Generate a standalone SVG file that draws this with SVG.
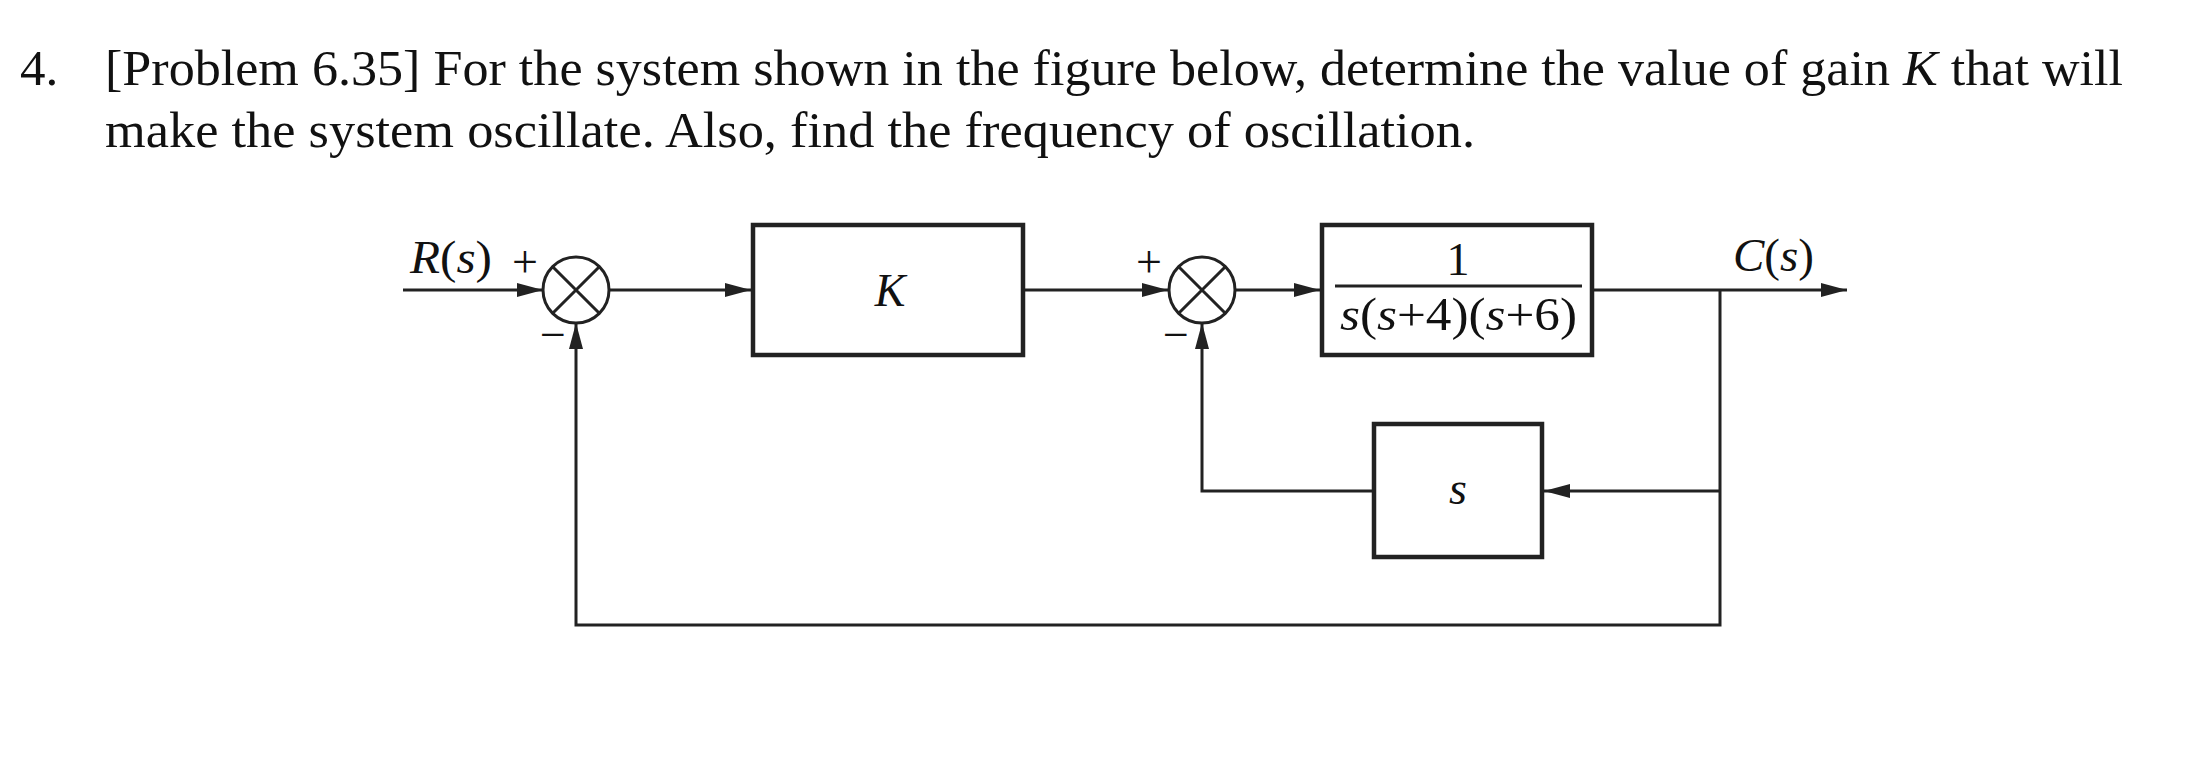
<svg xmlns="http://www.w3.org/2000/svg" width="2190" height="762" viewBox="0 0 2190 762">
<style>
text{font-family:"Liberation Serif","Times New Roman",serif;fill:#111}
.t{font-size:51px}
.l{font-size:46px}
.i{font-style:italic}
.box{fill:#fff;stroke:#222;stroke-width:4.5}
.ln{fill:none;stroke:#222;stroke-width:3}
.sum{fill:#fff;stroke:#222;stroke-width:3}
</style>
<defs>
<marker id="a" viewBox="0 0 10 10" refX="10" refY="5" markerWidth="26" markerHeight="14" markerUnits="userSpaceOnUse" orient="auto" preserveAspectRatio="none">
<path d="M0,0L10,5L0,10z" fill="#222"/>
</marker>
</defs>
<g id="title">
<text class="t" x="20" y="85">4.</text>
<text class="t" x="105" y="85" textLength="2018" lengthAdjust="spacingAndGlyphs">[Problem 6.35] For the system shown in the figure below, determine the value of gain <tspan class="i">K</tspan> that will</text>
<text class="t" x="105" y="147" textLength="1370" lengthAdjust="spacingAndGlyphs">make the system oscillate.  Also, find the frequency of oscillation.</text>
</g>
<g id="connectors">
<path class="ln" d="M403,290H543" marker-end="url(#a)"/>
<path class="ln" d="M609,290H751" marker-end="url(#a)"/>
<path class="ln" d="M1025,290H1168" marker-end="url(#a)"/>
<path class="ln" d="M1235,290H1320" marker-end="url(#a)"/>
<path class="ln" d="M1594,290H1847" marker-end="url(#a)"/>
<path class="ln" d="M1720,290V625H576V323" marker-end="url(#a)"/>
<path class="ln" d="M1720,491H1544" marker-end="url(#a)"/>
<path class="ln" d="M1374,491H1202V323" marker-end="url(#a)"/>
</g>
<g id="sum1">
<circle class="sum" cx="576" cy="290" r="33"/>
<path class="ln" d="M552.7,266.7L599.3,313.3M599.3,266.7L552.7,313.3"/>
<text class="l" x="525" y="277" text-anchor="middle">+</text>
<text class="l" x="553" y="350" text-anchor="middle">−</text>
</g>
<g id="sum2">
<circle class="sum" cx="1202" cy="290" r="33"/>
<path class="ln" d="M1178.7,266.7L1225.3,313.3M1225.3,266.7L1178.7,313.3"/>
<text class="l" x="1149" y="277" text-anchor="middle">+</text>
<text class="l" x="1176" y="350" text-anchor="middle">−</text>
</g>
<g id="input"><text class="l" x="410" y="273" textLength="82" lengthAdjust="spacingAndGlyphs"><tspan class="i">R</tspan>(<tspan class="i">s</tspan>)</text></g>
<g id="output"><text class="l" x="1733" y="271" textLength="81" lengthAdjust="spacingAndGlyphs"><tspan class="i">C</tspan>(<tspan class="i">s</tspan>)</text></g>
<g id="K">
<rect class="box" x="753" y="225" width="270" height="130"/>
<text class="l i" x="890" y="306" text-anchor="middle">K</text>
</g>
<g id="G">
<rect class="box" x="1322" y="225" width="270" height="130"/>
<text class="l" x="1458" y="275" text-anchor="middle">1</text>
<line x1="1335" y1="286" x2="1582" y2="286" stroke="#222" stroke-width="3"/>
<text class="l" x="1340" y="330" textLength="237" lengthAdjust="spacingAndGlyphs"><tspan class="i">s</tspan>(<tspan class="i">s</tspan>+4)(<tspan class="i">s</tspan>+6)</text>
</g>
<g id="H">
<rect class="box" x="1374" y="424" width="168" height="133"/>
<text class="l i" x="1458" y="504" text-anchor="middle">s</text>
</g>
</svg>
